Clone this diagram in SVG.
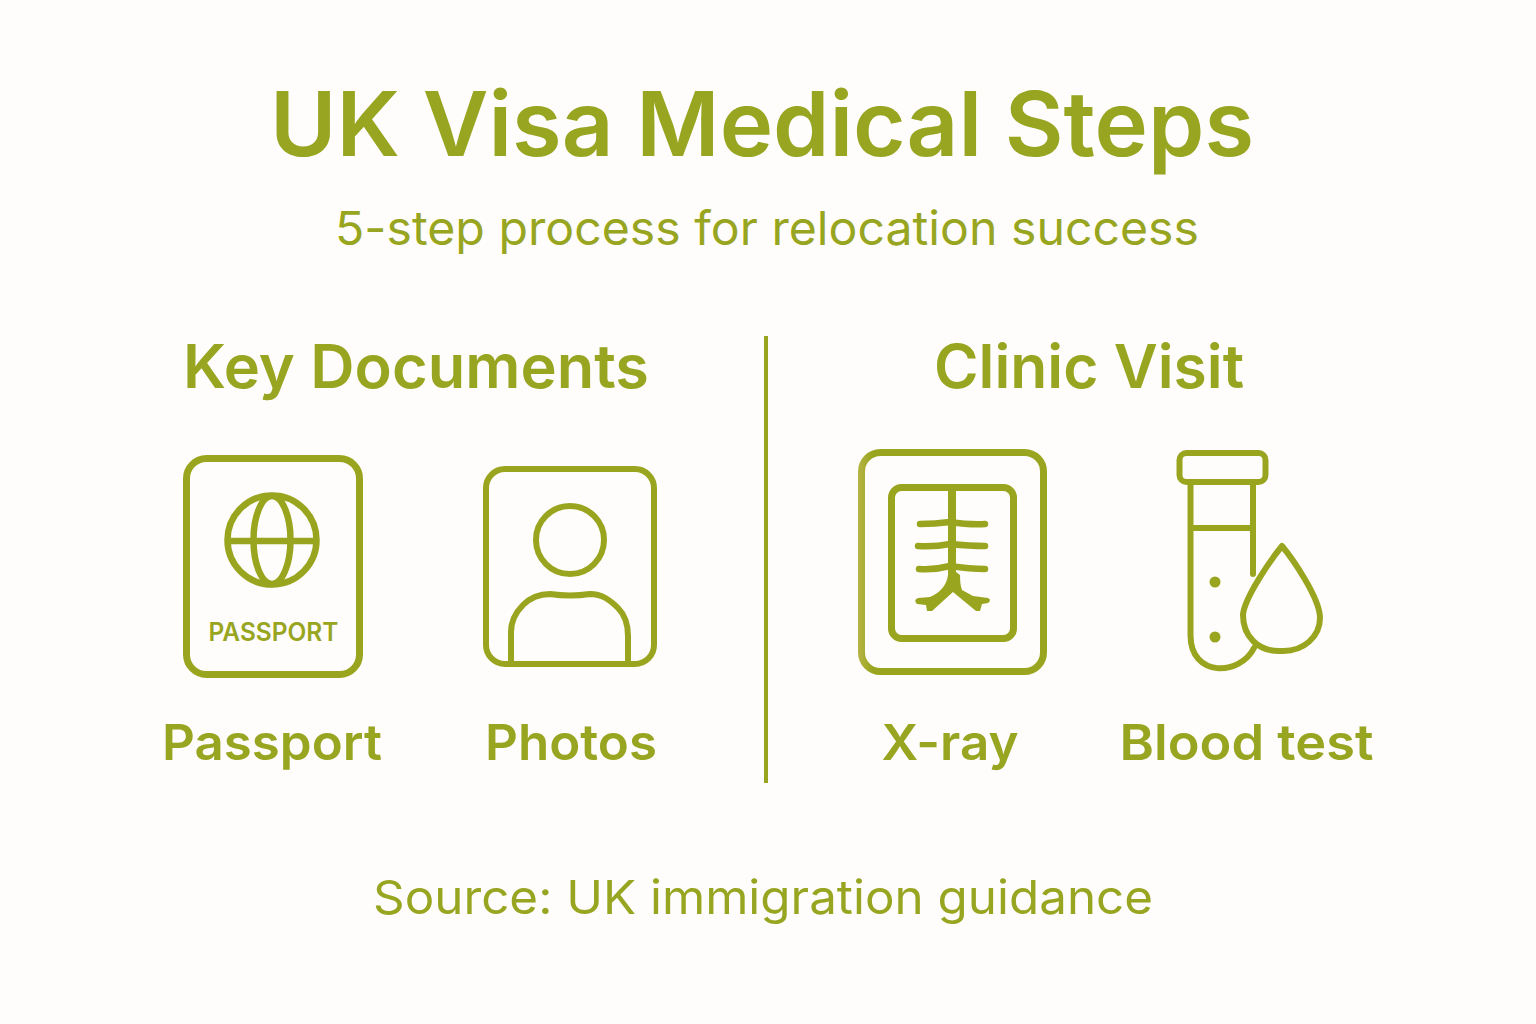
<svg xmlns="http://www.w3.org/2000/svg" width="1536" height="1024" viewBox="0 0 1536 1024">
<style>
text{font-family:"Inter","Liberation Sans",sans-serif;fill:#98a521;text-anchor:middle}
.h{font-weight:600}
.l{fill:none;stroke:#9aa51f;stroke-linejoin:round;stroke-linecap:round}
</style>
<defs><linearGradient id="edge" gradientUnits="userSpaceOnUse" x1="858" y1="0" x2="872" y2="0"><stop offset="0" stop-color="#b5b445"/><stop offset="1" stop-color="#9aa51f"/></linearGradient></defs>
<rect width="1536" height="1024" fill="#fffdfb"/>
<text id="title" class="h" x="762" y="156" font-size="90" textLength="984" lengthAdjust="spacingAndGlyphs">UK Visa Medical Steps</text>
<text id="subtitle" x="767" y="245" font-size="47" textLength="864" lengthAdjust="spacingAndGlyphs">5-step process for relocation success</text>
<g id="connectors"><line x1="766" y1="336" x2="766" y2="783" stroke="#9aa51f" stroke-width="4"/></g>
<g id="key-documents"><text class="h" x="416" y="388" font-size="60" textLength="466" lengthAdjust="spacingAndGlyphs">Key Documents</text></g>
<g id="clinic-visit"><text class="h" x="1089" y="388" font-size="60" textLength="310" lengthAdjust="spacingAndGlyphs">Clinic Visit</text></g>
<g id="passport">
<rect class="l" x="186.500" y="458.500" width="173" height="216" rx="20" stroke-width="7"/>
<circle class="l" cx="272" cy="540" r="44.500" stroke-width="6.500"/>
<ellipse class="l" cx="272" cy="540" rx="18.500" ry="44" stroke-width="6.500"/>
<line class="l" x1="229" y1="541" x2="315" y2="541" stroke-width="6.500"/>
<text class="h" x="273.500" y="641" font-size="25" textLength="130" lengthAdjust="spacingAndGlyphs">PASSPORT</text>
<text class="h" x="272" y="760" font-size="50" textLength="220" lengthAdjust="spacingAndGlyphs">Passport</text>
</g>
<g id="photos">
<rect class="l" x="486" y="469" width="168" height="195" rx="19" stroke-width="6"/>
<circle class="l" cx="570" cy="540" r="34" stroke-width="6"/>
<path class="l" stroke-width="6" d="M511 662V632C511 620 516 612 523 605C530 598 538 594 550 594Q570 597 590 594C602 594 610 600 618 608C625 615 628 624 628 636V662"/>
<text class="h" x="571" y="760" font-size="50" textLength="172" lengthAdjust="spacingAndGlyphs">Photos</text>
</g>
<g id="x-ray">
<rect x="861.500" y="452.500" width="182" height="219" rx="19" fill="none" stroke="url(#edge)" stroke-width="7"/>
<rect class="l" x="891.500" y="487.500" width="122" height="151" rx="10" stroke-width="7"/>
<path class="l" stroke-width="6.500" d="M920 524Q935 524 950 522Q970 525 985 524M918 546Q935 547 950 544Q970 546 985 546M919 569Q935 570 950 566Q970 569 985 569"/>
<path fill="#9aa51f" d="M948 488H956V572L960 575Q960 585 962 590L973 596L988 598Q992 600 988 603L982 604L980 611L976 611L953 592L932 611L927 611L926 605L917 604Q913 600 918 598L930 597Q946 590 948 575Z"/>
<text class="h" x="950" y="760" font-size="50" textLength="137" lengthAdjust="spacingAndGlyphs">X-ray</text>
</g>
<g id="blood-test">
<rect class="l" x="1179.500" y="453" width="86" height="29" rx="7" stroke-width="6"/>
<path class="l" stroke-width="6" d="M1190.500 482V635C1190.500 678 1240 676 1254 648M1253 482V574M1190.500 528H1253"/>
<circle cx="1215" cy="582" r="5.500" fill="#9aa51f"/>
<circle cx="1215" cy="637" r="5.500" fill="#9aa51f"/>
<path class="l" stroke-width="6" d="M1282 546C1292 558 1320 598 1320 618C1320 636 1304 652 1281 651C1258 652 1243 636 1243 615C1244 598 1272 558 1282 546Z"/>
<text class="h" x="1246.500" y="760" font-size="50" textLength="254" lengthAdjust="spacingAndGlyphs">Blood test</text>
</g>
<text id="source" x="763" y="914" font-size="47" textLength="780" lengthAdjust="spacingAndGlyphs">Source: UK immigration guidance</text>
</svg>
